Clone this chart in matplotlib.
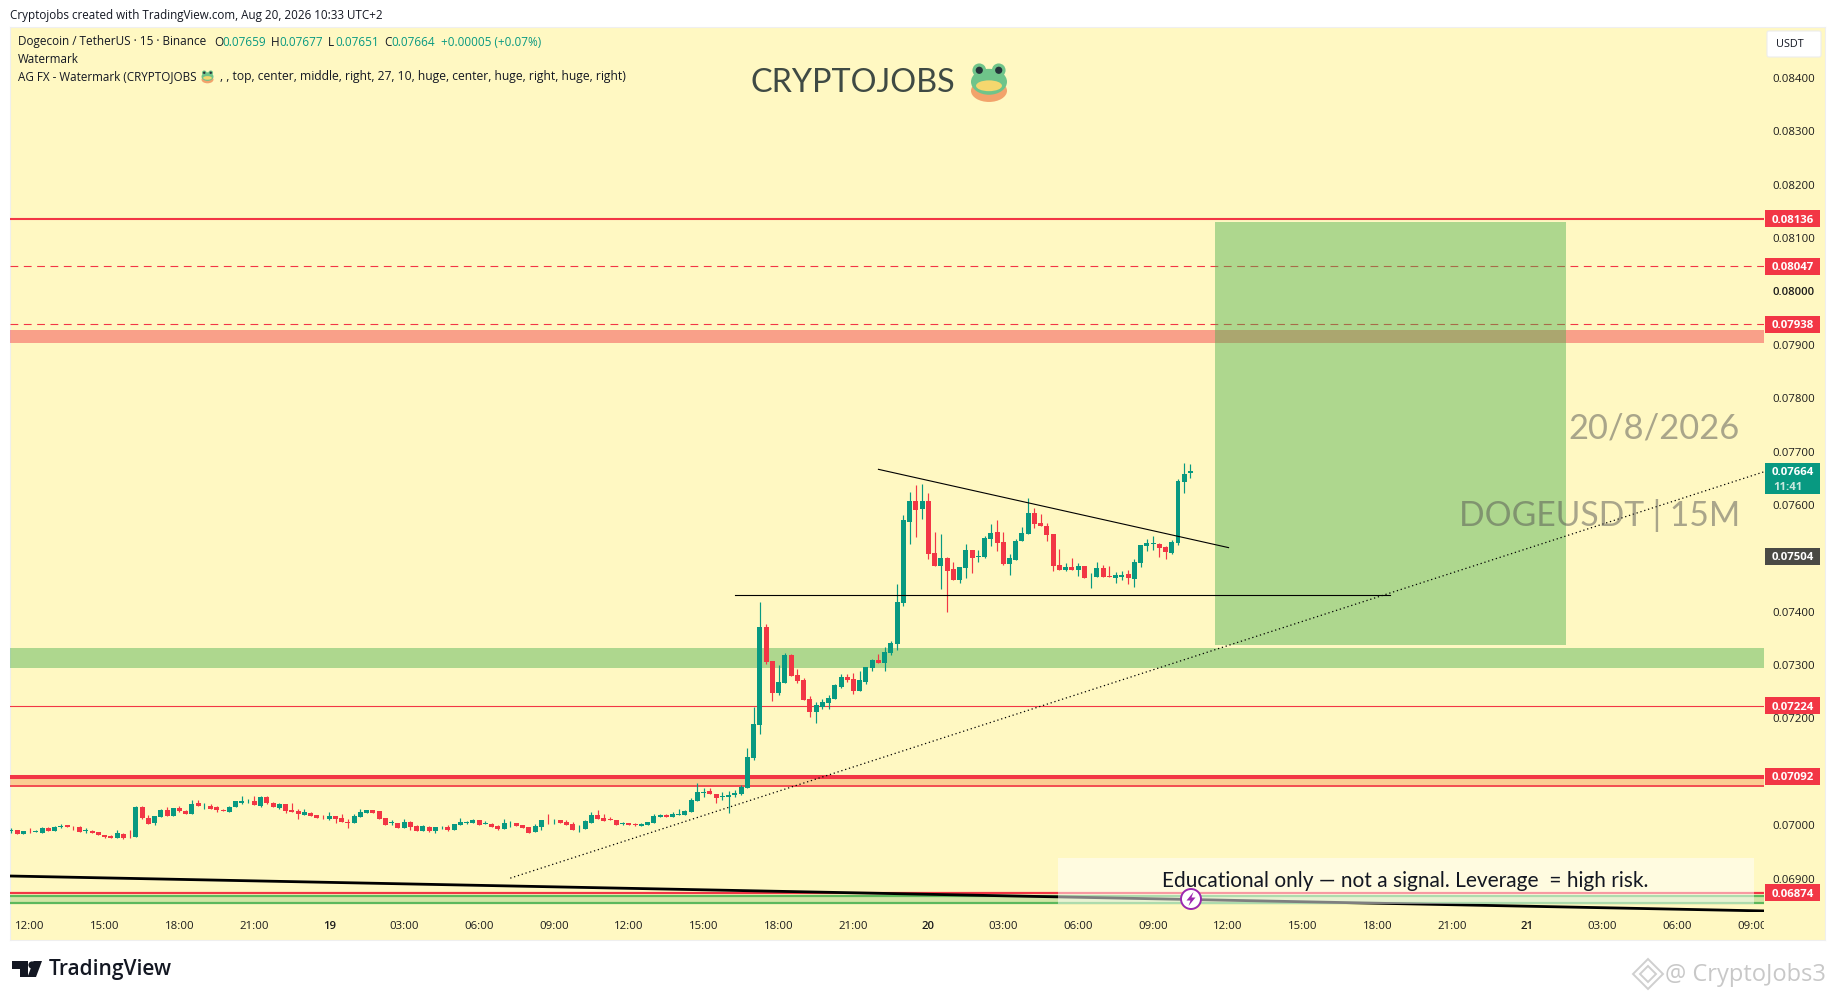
import matplotlib
matplotlib.use('Agg')
import matplotlib.pyplot as plt
from matplotlib.patches import Rectangle, Circle, Ellipse, Polygon, FancyBboxPatch
import numpy as np

W, H = 1835, 1000

# candles, prices in 1e-5 USDT, first bar is three bars before 18 Aug 12:00
opens = [6989,6991,6984,6990,6988,6986,6995,6989,6996,7001,
         6997,6997,6989,6989,6987,6982,6980,6976,6984,6982,
         6978,7034,7014,7004,7016,7029,7017,7032,7027,7021,
         7042,7036,7036,7034,7029,7025,7034,7042,7045,7046,
         7036,7053,7042,7032,7040,7029,7027,7019,7023,7019,
         7016,7012,7017,7014,7006,7004,7016,7023,7029,7027,
         7014,7004,7004,6995,7006,6999,6989,6997,6989,6996,
         6997,6991,7001,7005,7004,7010,7003,7002,6999,6993,
         7004,7004,7000,6997,6987,6997,7010,7009,7010,7006,
         7002,6994,6993,7004,7019,7014,7012,7010,7003,7004,
         7003,6999,7000,7004,7015,7019,7015,7020,7019,7025,
         7045,7060,7064,7059,7053,7053,7057,7059,7070,7126,
         7188,7371,7308,7248,7266,7319,7281,7272,7236,7212,
         7222,7229,7236,7259,7278,7274,7251,7268,7295,7310,
         7304,7323,7339,7416,7568,7607,7592,7607,7510,7486,
         7501,7480,7459,7482,7516,7503,7502,7536,7549,7530,
         7489,7497,7532,7545,7585,7566,7560,7545,7487,7478,
         7484,7478,7486,7466,7465,7482,7467,7463,7465,7471,
         7461,7491,7523,7527,7527,7521,7510,7529,7643,7659]
closes = [6991,6984,6989,6989,6989,6995,6990,6997,6999,6996,
          6996,6988,6991,6986,6982,6978,6977,6986,6977,6981,
          7034,7014,7002,7017,7029,7017,7032,7027,7021,7040,
          7036,7037,7031,7029,7026,7034,7046,7046,7046,7038,
          7053,7042,7034,7040,7027,7025,7021,7025,7017,7014,
          7015,7017,7012,7006,7005,7017,7025,7029,7023,7012,
          7001,7006,6995,7006,6997,6989,6999,6989,6997,6997,
          6991,7002,7006,7006,7010,7001,7004,6997,6993,7004,
          7005,6999,6995,6986,6999,7010,7009,7010,7004,7000,
          6991,6995,7008,7019,7012,7008,7010,7000,7004,7000,
          7001,7002,7006,7017,7019,7015,7021,7021,7027,7047,
          7062,7062,7059,7051,7054,7057,7060,7072,7128,7190,
          7371,7306,7248,7268,7319,7280,7270,7235,7212,7225,
          7231,7238,7263,7278,7272,7251,7272,7296,7310,7304,
          7325,7341,7418,7572,7607,7590,7607,7508,7486,7501,
          7476,7459,7484,7516,7501,7504,7538,7547,7529,7489,
          7501,7532,7547,7585,7564,7560,7544,7486,7478,7484,
          7478,7486,7463,7467,7482,7465,7465,7469,7469,7463,
          7493,7525,7529,7529,7519,7512,7530,7645,7658,7664]
highs = [6994,6992,6990,6994,6991,6996,6996,6998,7002,7001,
         6999,6999,6995,6991,6988,6982,6981,6991,6986,6991,
         7036,7036,7019,7017,7031,7034,7033,7036,7029,7047,
         7047,7041,7040,7036,7031,7036,7046,7055,7049,7055,
         7055,7055,7044,7042,7040,7042,7031,7031,7025,7019,
         7019,7025,7017,7021,7012,7021,7031,7029,7029,7027,
         7014,7010,7004,7012,7008,7001,7001,6999,6997,6999,
         7001,7002,7014,7008,7012,7010,7008,7004,7001,7012,
         7008,7004,7000,6997,7002,7010,7021,7012,7010,7010,
         7006,7000,7010,7025,7029,7021,7015,7010,7006,7004,
         7005,7004,7006,7021,7021,7021,7025,7030,7029,7051,
         7079,7070,7070,7059,7062,7064,7066,7075,7145,7222,
         7418,7377,7308,7300,7323,7321,7293,7276,7242,7231,
         7236,7244,7265,7283,7283,7285,7289,7296,7311,7321,
         7334,7345,7452,7581,7624,7637,7639,7622,7549,7545,
         7502,7493,7484,7527,7516,7516,7542,7564,7572,7549,
         7508,7536,7559,7613,7594,7583,7566,7545,7517,7491,
         7501,7491,7486,7472,7493,7487,7486,7474,7476,7478,
         7499,7525,7536,7542,7529,7523,7534,7648,7678,7677]
lows = [6986,6984,6983,6986,6987,6985,6989,6989,6995,6996,
        6992,6987,6986,6986,6982,6976,6976,6976,6974,6977,
        6978,7012,7002,7001,7015,7017,7017,7025,7021,7021,
        7036,7031,7031,7025,7026,7025,7034,7040,7042,7038,
        7034,7040,7034,7031,7023,7025,7012,7019,7017,7014,
        7012,7010,7004,7006,6995,7004,7016,7023,7023,7012,
        7001,7001,6995,6995,6991,6989,6989,6987,6986,6993,
        6989,6991,7001,7002,7004,7001,7002,6997,6991,6993,
        6997,6999,6995,6986,6987,6991,7002,7002,7004,7000,
        6991,6987,6993,7004,7012,7008,7010,7000,7000,7000,
        6999,6999,7000,7004,7015,7015,7015,7020,7019,7025,
        7045,7053,7059,7042,7047,7023,7053,7057,7070,7122,
        7171,7302,7233,7244,7266,7280,7266,7235,7203,7192,
        7218,7218,7236,7257,7268,7246,7251,7265,7289,7304,
        7289,7319,7328,7411,7527,7540,7574,7499,7486,7442,
        7399,7459,7454,7463,7472,7493,7501,7523,7514,7487,
        7469,7497,7532,7545,7557,7560,7532,7476,7478,7476,
        7478,7467,7463,7444,7465,7465,7465,7454,7459,7452,
        7446,7484,7514,7516,7502,7499,7508,7525,7622,7651]

time_labels = ['12:00','15:00','18:00','21:00','19','03:00','06:00','09:00',
               '12:00','15:00','18:00','21:00','20','03:00','06:00','09:00',
               '12:00','15:00','18:00','21:00','21','03:00','06:00','09:00']
price_ticks = [0.069,0.070,0.071,0.072,0.073,0.074,0.076,0.077,0.078,
               0.079,0.080,0.081,0.082,0.083,0.084]
level_solid = [0.08136, 0.07224]
level_dashed = [0.08047, 0.07938]
red_labels = [0.08136, 0.08047, 0.07938, 0.07224, 0.07092, 0.06874]

GREEN = '#089981'
RED = '#F23645'
BG = '#FFF8C2'
FONT = 'Open Sans'
plt.rcParams['font.family'] = [FONT, 'DejaVu Sans']


def place(l, t, r, b):
    return [l / W, 1 - b / H, (r - l) / W, (b - t) / H]


fig = plt.figure(figsize=(W / 100, H / 100), dpi=100, facecolor='white')

# whole chart background
back = fig.add_axes(place(10, 27, 1825, 940), zorder=0)
back.set_facecolor(BG)
back.set_xticks([])
back.set_yticks([])
for s in back.spines.values():
    s.set_color('#EFEFEF')

ax = fig.add_axes(place(10, 27, 1764, 912), zorder=1)
ax.patch.set_alpha(0)
ax.set_xlim(-3.16, 277.9)
ax.set_ylim(0.068376, 0.08495)
ax.axis('off')

# zones
ax.axhspan(0.07904, 0.07928, color=RED, alpha=0.45, lw=0, zorder=1)
ax.axhspan(0.07295, 0.07332, color='#4CAF50', alpha=0.45, lw=0, zorder=1)
ax.axhspan(0.07072, 0.07092, color='#F57C3A', alpha=0.35, lw=0, zorder=1)
ax.axhline(0.07090, color=RED, lw=2.9, zorder=2)
ax.axhline(0.07073, color=RED, lw=1.2, zorder=2)
ax.axhspan(0.06853, 0.06866, color='#4CAF50', alpha=0.25, lw=0, zorder=1)
ax.axhline(0.06874, color=RED, lw=1.6, zorder=2)
ax.axhline(0.06868, color='#5CB85C', lw=1.6, zorder=2)
ax.axhline(0.06854, color='#5CB85C', lw=1.6, zorder=2)

for lv in level_solid:
    ax.axhline(lv, color=RED, lw=1.5 if lv > 0.08 else 0.8, zorder=2)
for lv in level_dashed:
    ax.axhline(lv, color=RED, lw=0.8, dashes=(7, 5), zorder=2)

# candles
x = np.arange(-3, len(opens) - 3)
o = np.array(opens) / 1e5
c = np.array(closes) / 1e5
hi = np.array(highs) / 1e5
lo = np.array(lows) / 1e5
cols = [GREEN if b >= a else RED for a, b in zip(o, c)]
ax.vlines(x, lo, hi, colors=cols, lw=0.85, zorder=5)
ax.bar(x, np.abs(c - o), bottom=np.minimum(o, c), width=0.8, color=cols, lw=0, zorder=6)

# drawn lines
ax.plot([136, 192.1], [0.076666, 0.0752], color='black', lw=0.8, zorder=7)
ax.plot([113, 218], [0.074307, 0.074307], color='black', lw=0.8, zorder=7)
ax.plot([77, 277.9], [0.06901, 0.07662], color='black', lw=0.9, dashes=(1, 2.2), zorder=7)
ax.plot([-3.16, 277.9], [0.06905, 0.068396], color='black', lw=2.0, zorder=3)

# long position box
ax.add_patch(Rectangle((190, 0.07338), 56.2, 0.00792, fc='#4CAF50', alpha=0.45, lw=0, zorder=4))

# time axis
tx = fig.add_axes(place(10, 912, 1764, 940), zorder=2, sharex=ax)
tx.patch.set_alpha(0)
tx.axis('off')
tx.set_ylim(0, 1)
for i, lab in enumerate(time_labels):
    tx.text(i * 12, 0.49, lab, ha='center', va='center', fontsize=8.2, color='#1c1c1c',
            clip_on=True, fontweight='semibold' if len(lab) == 2 else 'normal')

# price axis
px = fig.add_axes(place(1764, 27, 1825, 912), zorder=2, sharey=ax)
px.patch.set_alpha(0)
px.axis('off')
px.set_xlim(0, 61)
for p in price_ticks:
    px.text(29.5, p, '%.5f' % p, ha='center', va='center_baseline', fontsize=8.2, color='#1c1c1c',
            fontweight='semibold' if p == 0.080 else 'normal', zorder=2)


def price_tag(p, face, height=0.00032):
    px.add_patch(Rectangle((0.5, p - height / 2), 55.5, height, fc=face, lw=0, zorder=3))
    px.text(29, p, '%.5f' % p, ha='center', va='center_baseline', fontsize=8.2, color='white',
            fontweight='bold', zorder=4)


for p in red_labels:
    price_tag(p, RED)
price_tag(0.07504, '#4A4A45')
px.add_patch(Rectangle((0.5, 0.0762), 55.5, 0.00058, fc=GREEN, lw=0, zorder=3))
px.text(29, 0.07664, '0.07664', ha='center', va='center_baseline', fontsize=8.2, color='white',
        fontweight='bold', zorder=4)
px.text(24, 0.07636, '11:41', ha='center', va='center_baseline', fontsize=8.2, color='#C9E8DE',
        fontweight='bold', zorder=4)

# everything else is placed in pixels
top = fig.add_axes([0, 0, 1, 1], zorder=3)
top.patch.set_alpha(0)
top.set_xlim(0, W)
top.set_ylim(H, 0)
top.axis('off')


def frog(cx, cy, s):
    top.add_patch(Ellipse((cx, cy + 0.30 * s), 1.0 * s, 0.62 * s, fc='#F2A36B', lw=0))
    top.add_patch(Ellipse((cx, cy + 0.05 * s), 1.0 * s, 0.72 * s, fc='#6FC48A', lw=0))
    top.add_patch(Ellipse((cx, cy + 0.16 * s), 0.72 * s, 0.30 * s, fc='#F5D76E', lw=0))
    for dx in (-0.27, 0.27):
        top.add_patch(Circle((cx + dx * s, cy - 0.27 * s), 0.19 * s, fc='#6FC48A', lw=0))
        top.add_patch(Circle((cx + dx * s, cy - 0.27 * s), 0.10 * s, fc='#26343A', lw=0))


# header
top.text(10, 15.5, 'Cryptojobs created with TradingView.com, Aug 20, 2026 10:33 UTC+2',
         fontsize=8.4, va='center', color='#131722')
DARK = '#131722'
TEAL = '#089981'
legend_parts = [(18, 'Dogecoin / TetherUS · 15 · Binance', DARK), (214, 'O', DARK), (222, '0.07659', TEAL),
                (271, 'H', DARK), (279, '0.07677', TEAL), (328, 'L', DARK), (335, '0.07651', TEAL),
                (384, 'C', DARK), (391.5, '0.07664', TEAL), (441, '+0.00005 (+0.07%)', TEAL)]
for lx, s, col in legend_parts:
    top.text(lx, 42, s, fontsize=8.45, va='center', color=col)
top.text(18, 59.5, 'Watermark', fontsize=8.4, va='center', color=DARK)
top.text(18, 76.5, 'AG FX - Watermark (CRYPTOJOBS', fontsize=8.4, va='center', color=DARK)
frog(207.5, 76, 12)
top.text(220, 76.5, ', , top, center, middle, right, 27, 10, huge, center, huge, right, huge, right)',
         fontsize=8.75, va='center', color=DARK)

# watermarks
top.text(750, 83, 'CRYPTOJOBS', fontsize=23.3, va='center', color='#3F4A44', family='Lato')
frog(989, 80, 36)
top.text(1740, 429, '20/8/2026', fontsize=24.8, va='center', ha='right', color='#505050', alpha=0.49, family='Lato')
top.text(1740, 515, 'DOGEUSDT | 15M', fontsize=24.2, va='center', ha='right', color='#505050', alpha=0.49, family='Lato')

# USDT button
top.add_patch(FancyBboxPatch((1769, 33), 50, 22, boxstyle='round,pad=2', fc='white', ec='#EDEDED', lw=0.8))
top.text(1776, 44.5, 'USDT', fontsize=7.8, va='center', color='#131722')

# note box and event marker
top.add_patch(Rectangle((1058, 858), 695.5, 46, fc='white', alpha=0.5, lw=0))
top.text(1405, 881, 'Educational only — not a signal. Leverage  = high risk.', fontsize=15,
         ha='center', va='center', color='#131722', family='Lato')
top.add_patch(Circle((1191, 899), 10, fc='white', ec='#9C27B0', lw=1.4))
top.add_patch(Polygon([(1193.5, 892), (1186.5, 900.5), (1190.5, 900.5), (1188.5, 906),
                       (1195.5, 897.5), (1191.5, 897.5)], fc='#9C27B0', lw=0))

# TradingView logo
top.add_patch(Polygon([(12, 961), (28, 961), (28, 977), (20, 977), (20, 969), (12, 969)], fc='#131722', lw=0))
top.add_patch(Circle((32, 965), 3.6, fc='#131722', lw=0))
top.add_patch(Polygon([(36, 977), (27.5, 977), (33.5, 961), (42, 961)], fc='#131722', lw=0))
top.text(49, 969.5, 'TradingView', fontsize=15, va='center', color='#131722', fontweight='semibold')

# platform watermark
for cx, cy, r in [(1648, 974, 15), (1648, 974, 8)]:
    top.add_patch(Polygon([(cx, cy - r), (cx + r, cy), (cx, cy + r), (cx - r, cy)], fc='none', ec='#CFCFCF', lw=1.4))
top.text(1665, 975, '@ CryptoJobs3', fontsize=17, va='center', color='#C8C8C8')

fig.savefig('out.png', dpi=100)
